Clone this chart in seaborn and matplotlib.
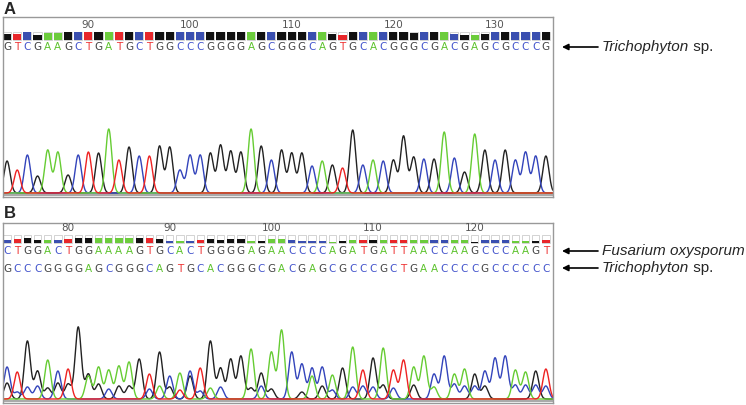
import numpy as np
import pandas as pd
import matplotlib
matplotlib.use('Agg')
import matplotlib.pyplot as plt
import seaborn as sns

# Panel A: single read
seq_a = "GTCGAAGCTGATGCTGGCCCGGGGAGCGGGCAGTGCACGGGCGACGAGCGCCCG"
peaks_a = [32, 23, 38, 17, 43, 41, 18, 38, 41, 40, 64, 33, 46, 37, 37, 47, 46, 23, 38, 38,
           40, 48, 42, 41, 64, 47, 33, 43, 40, 40, 27, 32, 28, 25, 63, 28, 33, 32, 33, 57,
           36, 34, 34, 61, 35, 21, 59, 43, 33, 43, 33, 41, 37, 37]
qual_a = [0.8, 0.7, 1, 0.6, 0.9, 0.9, 1, 1, 1, 1, 1, 1, 1, 1, 1, 1, 1, 1, 1, 1,
          1, 1, 1, 1, 1, 1, 1, 1, 1, 1, 1, 1, 0.8, 0.6, 1, 1, 1, 1, 1, 1,
          0.9, 1, 1, 1, 0.8, 0.6, 0.6, 0.8, 1, 1, 1, 1, 1, 1]
start_a = 82
ticks_a = [90, 100, 110, 120, 130]

# Panel B: mixed read (Fusarium on top, Trichophyton underneath)
seq_b_top = "CTGGACTGGAAAAGTGCACTGGGGAGAACCCCAGATGATTAACCAAGCCCAAGT"
seq_b_bot = "GCCCGGGGAGCGGGCAGTGCACGGGCGACGAGCGCCCGCTGAACCCCGCCCCCC"
peaks_b_top = [32, 27, 58, 28, 39, 28, 30, 72, 25, 32, 29, 33, 37, 40, 25, 47, 23, 26, 28, 31,
               58, 31, 40, 43, 50, 26, 47, 69, 47, 35, 31, 32, 24, 31, 52, 29, 41, 51, 29, 39,
               32, 43, 25, 43, 25, 30, 25, 28, 41, 43, 29, 27, 28, 30]
peaks_b_bot = [16, 7, 12, 13, 11, 16, 15, 0, 23, 15, 10, 13, 13, 0, 10, 13, 12, 9, 23, 8,
               11, 12, 0, 0, 11, 13, 10, 0, 0, 7, 23, 13, 9, 0, 12, 13, 12, 14, 11, 0,
               14, 0, 12, 0, 15, 13, 13, 13, 0, 0, 14, 14, 14, 13]
qual_b = [0.32, 0.48, 0.6, 0.32, 0.32, 0.32, 0.48, 0.6, 0.6, 0.6, 0.6, 0.6, 0.6, 0.6, 0.6, 0.48, 0.2, 0.2, 0.2, 0.32,
          0.48, 0.32, 0.48, 0.48, 0.2, 0.2, 0.48, 0.48, 0.4, 0.2, 0.2, 0.2, 0.12, 0.2, 0.4, 0.4, 0.4, 0.4, 0.4, 0.4,
          0.32, 0.32, 0.32, 0.32, 0.32, 0.32, 0.08, 0.32, 0.4, 0.4, 0.2, 0.2, 0.2, 0.4]
start_b = 74
ticks_b = [80, 90, 100, 110, 120]

trace_col = {'G': '#222222', 'C': '#3344bb', 'A': '#66cc33', 'T': '#ee2222'}
letter_col = {'G': '#444444', 'C': '#4455cc', 'A': '#5cc22c', 'T': '#ee3333'}
box_col = {'G': '#111111', 'C': '#3a4fb0', 'A': '#6ccc3c', 'T': '#e8262a'}

W, H = 746, 405
fig = plt.figure(figsize=(W / 100, H / 100), dpi=100)
sns.set_style('white')


def make_ax(top, bottom):
    ax = fig.add_axes([3 / W, 1 - bottom / H, 550 / W, (bottom - top) / H])
    ax.set_xlim(-0.4, 53.7)
    ax.set_ylim(0, bottom - top)
    ax.set_xticks([])
    ax.set_yticks([])
    for s in ax.spines.values():
        s.set_color('#999999')
        s.set_linewidth(1)
    return ax


def traces(ax, peak_sets, base_y=4, sigma=0.3):
    xs = np.arange(-0.4, 53.7, 0.02)
    rows = []
    for b in 'GCAT':
        y = np.zeros_like(xs)
        for seq, hts in peak_sets:
            for i, (ch, h) in enumerate(zip(seq, hts)):
                if ch == b and h > 0:
                    y += h * np.exp(-0.5 * ((xs - i) / sigma) ** 2)
        rows.append(pd.DataFrame({'x': xs, 'y': y + base_y, 'base': b}))
    df = pd.concat(rows)
    sns.lineplot(data=df, x='x', y='y', hue='base', palette=trace_col, legend=False,
                 linewidth=1, estimator=None, ax=ax)
    ax.axhline(2.5, color='#aaaaaa', lw=1.5, zorder=0)


def boxes(ax, seq, qual, y0, width):
    idx = np.arange(len(seq))
    ax.bar(idx, 8, bottom=y0, width=width, fill=False, edgecolor='#cccccc', linewidth=0.6)
    ax.bar(idx, [8 * q for q in qual], bottom=y0, width=width,
           color=[box_col[c] for c in seq], linewidth=0)


def letters(ax, seq, y):
    for i, ch in enumerate(seq):
        ax.text(i, y, ch, ha='center', va='center', fontsize=7.5, color=letter_col[ch],
                family='DejaVu Sans')


def numbers(ax, ticks, start, y):
    for t in ticks:
        ax.text(t - start, y, str(t), ha='center', va='center', fontsize=7.5, color='#555555',
                family='DejaVu Sans')


# Panel A
ax_a = make_ax(17, 197)
traces(ax_a, [(seq_a, peaks_a)])
boxes(ax_a, seq_a, qual_a, 157, 0.8)
letters(ax_a, seq_a, 150)
numbers(ax_a, ticks_a, start_a, 172)

# Panel B
ax_b = make_ax(223, 403)
traces(ax_b, [(seq_b_top, peaks_b_top), (seq_b_bot, peaks_b_bot)])
boxes(ax_b, seq_b_top, qual_b, 160, 0.72)
letters(ax_b, seq_b_top, 152)
letters(ax_b, seq_b_bot, 134)
numbers(ax_b, ticks_b, start_b, 175)

# Panel letters
fig.text(4 / W, 1 - 9 / H, 'A', fontsize=12, fontweight='bold', family='Liberation Sans',
         ha='left', va='center')
fig.text(4 / W, 1 - 213 / H, 'B', fontsize=12, fontweight='bold', family='Liberation Sans',
         ha='left', va='center')

# Arrows with species labels
labels = [(47, 'Trichophyton', ' sp.'), (251, 'Fusarium oxysporum', ''), (268, 'Trichophyton', ' sp.')]
fig.canvas.draw()
renderer = fig.canvas.get_renderer()
for y, it, rest in labels:
    fy = 1 - y / H
    plt.annotate('', xy=(562 / W, fy), xytext=(598 / W, fy), xycoords='figure fraction',
                 arrowprops=dict(arrowstyle='-|>', color='black', lw=1.2, mutation_scale=9,
                                 shrinkA=0, shrinkB=0))
    t = fig.text(602 / W, fy, it, fontsize=11, style='italic', family='Liberation Sans',
                 ha='left', va='center')
    if rest:
        bb = t.get_window_extent(renderer=renderer)
        fig.text(bb.x1 / W, fy, rest, fontsize=11, family='Liberation Sans',
                 ha='left', va='center')

fig.savefig('out.png', dpi=100)
